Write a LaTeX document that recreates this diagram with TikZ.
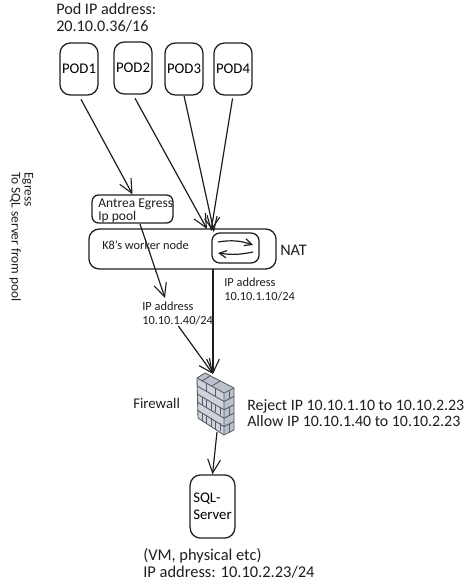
\documentclass[tikz,border=0pt]{standalone}
\usepackage{fontspec}
\setmainfont{Carlito}
\usetikzlibrary{arrows.meta}
\definecolor{ink}{HTML}{1e1e1e}
\definecolor{brick}{HTML}{cfd3da}
\definecolor{brickdark}{HTML}{bcc1ca}
\definecolor{mortar}{HTML}{565d69}
\tikzset{
  sketchbox/.style={draw=ink,line width=0.32mm,rounded corners=2.6mm,inner sep=0pt},
  podbox/.style={sketchbox,minimum width=9.5mm,minimum height=13mm,font=\fontsize{10.5}{12}\selectfont},
  flow/.style={draw=ink,line width=0.3mm,-{Straight Barb[length=3.4mm,width=3.2mm,line width=0.28mm]}},
  swap/.style={draw=ink,line width=0.3mm,-{Straight Barb[length=1.8mm,width=1.8mm]}},
  note/.style={anchor=west,inner sep=0pt,align=left,text=ink,font=\fontsize{10.5}{12.4}\selectfont},
  smallnote/.style={note,font=\fontsize{8.8}{9.4}\selectfont},
  widenote/.style={note,font=\fontsize{11.5}{12.2}\selectfont},
}
\begin{document}
\begin{tikzpicture}[x=0.25mm,y=-0.25mm]
  \useasboundingbox (0,0) rectangle (474,584);

  % ---------------------------------------------------------------- PODS
  \node[widenote] (podip) at (56,18) {Pod IP address:\\20.10.0.36/16};
  \foreach \n/\x/\y in {1/79/69,2/133/68,3/184/69,4/233/69} {
    \node[podbox] (pod\n) at (\x,\y) {POD\n};
  }

  % ---------------------------------------------------------------- WORKER NODE
  \node[sketchbox,minimum width=46.8mm,minimum height=10mm] (worker) at (182.5,249) {};
  \node[smallnote] (workerlabel) at (102,245.5) {K8's worker node};
  \node[sketchbox,rounded corners=2mm,minimum width=11.8mm,minimum height=7.5mm] (natbox) at (235.5,248) {};
  \node[widenote] (natlabel) at (280,250) {NAT};
  \node[sketchbox,rounded corners=1.6mm,minimum width=20.2mm,minimum height=7mm] (pool) at (132.5,209) {};
  \node[note,font=\fontsize{9.6}{9.4}\selectfont] (poollabel) at (98,210.5) {Antrea Egress\\Ip pool};

  \coordinate (swapa) at (218,242);
  \coordinate (swapb) at (253,245);
  \coordinate (swapc) at (253,252);
  \coordinate (swapd) at (218,253);
  \draw[swap] (swapa) to[bend left=14] (swapb);
  \draw[swap] (swapc) to[bend left=10] (swapd);

  % ---------------------------------------------------------------- ADDRESSES
  \node[smallnote] (natip) at (224,289.5) {IP address\\10.10.1.10/24};
  \node[smallnote] (poolip) at (142,313.5) {IP address\\10.10.1.40/24};

  % ---------------------------------------------------------------- FIREWALL
  \node[inner sep=0pt,minimum width=9.5mm,minimum height=15.5mm] (firewall) at (215.5,404) {};
  \fill[brick] (197,378) -- (224,393) -- (224,435) -- (198,418) -- cycle;
  \fill[brickdark] (205,373) -- (234,388) -- (224,393) -- (197,378) -- cycle;
  \fill[brick!85!mortar] (224,393) -- (234,388) -- (234,430) -- (224,435) -- cycle;
  \begin{scope}[mortar,line width=0.22mm,line join=round]
    \draw (197,378) -- (205,373) -- (234,388) -- (234,430) -- (224,435) -- (198,418) -- cycle;
    \draw (197,378) -- (224,393) -- (234,388) (224,393) -- (224,435);
    \foreach \k in {1,...,4} {
      \draw (197.2,378+\k*8) -- (224,393+\k*8.4);
      \draw (224,393+\k*8.4) -- (234,388+\k*8.4);
    }
    \foreach \k in {0,2,4} {
      \draw (206,383+\k*8) -- (206,391+\k*8);
      \draw (215,388+\k*8.2) -- (215,396+\k*8.2);
      \draw (229,390.5+\k*8.4) -- (229,398.9+\k*8.4);
    }
    \foreach \k in {1,3} {
      \draw (202,389+\k*8) -- (202,397+\k*8);
      \draw (211,394+\k*8) -- (211,402+\k*8);
      \draw (220,399+\k*8) -- (220,407+\k*8);
    }
    \draw (210,376) -- (202,381) (220,381) -- (212,386);
  \end{scope}
  \node[note] (fwlabel) at (133,403) {Firewall};
  \node[note,font=\fontsize{11.3}{11.4}\selectfont] (fwrules) at (247,413) {Reject IP 10.10.1.10 to 10.10.2.23\\Allow IP 10.10.1.40 to 10.10.2.23};

  % ---------------------------------------------------------------- SQL SERVER
  \node[podbox,minimum width=11.2mm,minimum height=15.8mm,align=left] (sql) at (212.5,506.5) {SQL-\\Server};
  \node[widenote,font=\fontsize{11.7}{12}\selectfont] (sqlinfo) at (143,563.5) {(VM, physical etc)\\IP address: 10.10.2.23/24};

  % ---------------------------------------------------------------- SIDE NOTE
  \node[note,anchor=north west,rotate=-90,font=\fontsize{9.5}{8}\selectfont] (egressnote) at (33.5,172) {Egress\\To SQL server from pool};

  % ---------------------------------------------------------------- CONNECTORS
  \coordinate (natina) at (207,229);
  \coordinate (natinb) at (211,231);
  \coordinate (natinc) at (214,232);
  \coordinate (natout) at (213,269);
  \coordinate (poolout) at (140,224);
  \coordinate (poolin) at (165,298);
  \coordinate (fwin) at (213,374);
  \coordinate (fwout) at (217,432);
  \draw[flow,shorten <=3pt] (pod1.south) -- (pool.north);
  \draw[flow,shorten <=3pt] (pod2.south) -- (natina);
  \draw[flow] (pod3.south) -- (natinc);
  \draw[flow,shorten <=2pt] (pod4.south) -- (natinb);
  \draw[flow] (poolout) -- (poolin);
  \draw[flow,shorten <=1pt] (poolip.south) -- (fwin);
  \draw[flow] (natout) -- (fwin);
  \draw[flow] (fwout) -- (sql.north);

\end{tikzpicture}
\end{document}
